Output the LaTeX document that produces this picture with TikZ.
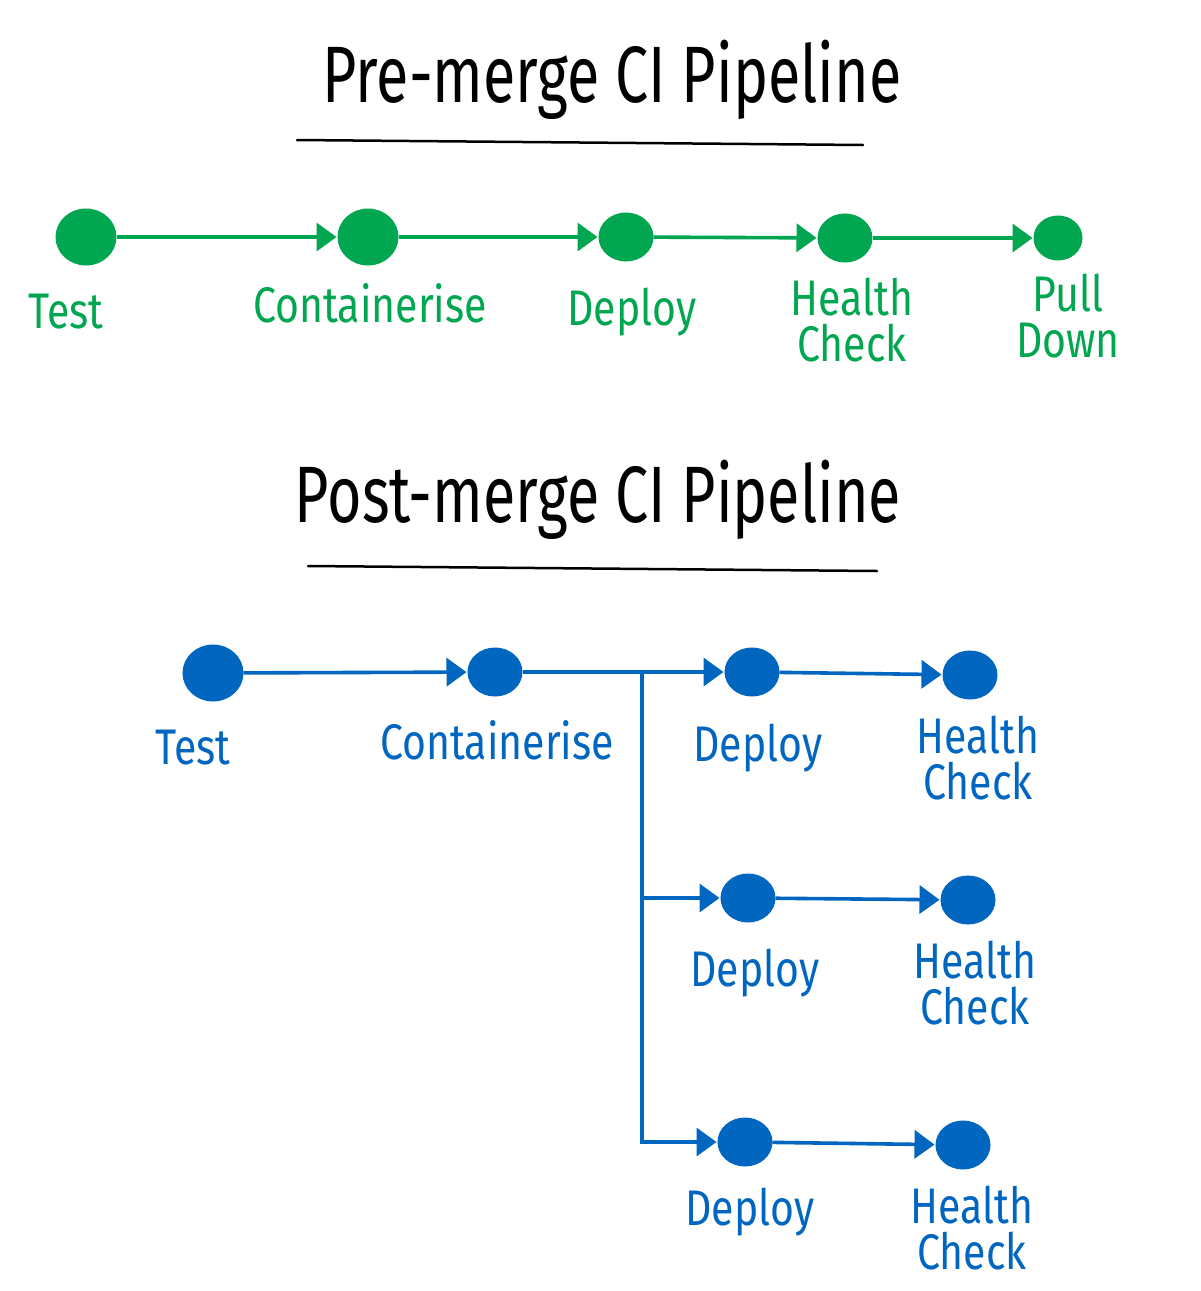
\documentclass[tikz,border=0pt]{standalone}
\usepackage{fontspec}
\setmainfont{Fira Sans}
\usetikzlibrary{shapes.geometric,arrows.meta}
\definecolor{pgreen}{HTML}{00A650}
\definecolor{pblue}{HTML}{0066C0}
\newcommand{\hw}[1]{\scalebox{0.82}[1]{#1}}
\begin{document}
\begin{tikzpicture}[x=1pt,y=-1pt,
  dot/.style={ellipse,draw=#1,fill=#1,line width=3pt,minimum width=58pt,minimum height=54pt,inner sep=0pt},
  small dot/.style={ellipse,draw=#1,fill=#1,line width=3pt,minimum width=52pt,minimum height=46pt,inner sep=0pt},
  conn/.style={draw=#1,line width=3.6pt,-{Triangle[length=20pt,width=28pt]},shorten >=1pt},
  lab/.style={text=#1,font=\fontsize{50}{46}\selectfont,align=center,inner sep=0pt},
  ttl/.style={text=black,font=\fontsize{80}{82}\selectfont,inner sep=0pt},
  uline/.style={draw=black,line width=2.5pt,line cap=round}]
\useasboundingbox[fill=white] (0,0) rectangle (1200,1291);

% ---------- Pre-merge ----------
\node[ttl] (t1) at (612,80) {\scalebox{0.74}[1]{Pre-merge CI Pipeline}};
\coordinate (u1a) at (297,140);
\coordinate (u1b) at (863,145);
\draw[uline] (u1a) -- (u1b);

\node[dot=pgreen] (gt) at (86,237) {};
\node[dot=pgreen] (gc) at (368,237) {};
\node[small dot=pgreen] (gd) at (626,237) {};
\node[small dot=pgreen] (gh) at (845,238) {};
\node[small dot=pgreen,minimum width=46pt,minimum height=42pt] (gp) at (1058,238) {};

\draw[conn=pgreen] (gt) -- (gc);
\draw[conn=pgreen] (gc) -- (gd);
\draw[conn=pgreen] (gd) -- (gh);
\draw[conn=pgreen] (gh) -- (gp);

\node[lab=pgreen] (lgt) at (66,312) {\hw{Test}};
\node[lab=pgreen] (lgc) at (370,303) {\hw{Containerise}};
\node[lab=pgreen] (lgd) at (632,312) {\hw{Deploy}};
\node[lab=pgreen] (lgh) at (852,320) {\hw{Health}\\\hw{Check}};
\node[lab=pgreen] (lgp) at (1068,316) {\hw{Pull}\\\hw{Down}};

% ---------- Post-merge ----------
\node[ttl] (t2) at (598,500) {\scalebox{0.74}[1]{Post-merge CI Pipeline}};
\coordinate (u2a) at (308,566);
\coordinate (u2b) at (877,571);
\draw[uline] (u2a) -- (u2b);

\node[dot=pblue] (bt) at (213,673) {};
\node[small dot=pblue] (bc) at (495,672) {};
\node[small dot=pblue] (bd1) at (752,672) {};
\node[small dot=pblue] (bh1) at (970,675) {};
\node[small dot=pblue] (bd2) at (748,898) {};
\node[small dot=pblue] (bh2) at (968,900) {};
\node[small dot=pblue] (bd3) at (745,1142) {};
\node[small dot=pblue] (bh3) at (963,1145) {};

\draw[conn=pblue] (bt) -- (bc);
\draw[conn=pblue] (bc) -- (bd1);
\coordinate (bj) at (642,672);
\draw[conn=pblue] (bj) |- (bd2);
\draw[conn=pblue] (bj) |- (bd3);
\draw[conn=pblue] (bd1) -- (bh1);
\draw[conn=pblue] (bd2) -- (bh2);
\draw[conn=pblue] (bd3) -- (bh3);

\node[lab=pblue] (lbt) at (193,748) {\hw{Test}};
\node[lab=pblue] (lbc) at (497,740) {\hw{Containerise}};
\node[lab=pblue] (lbd1) at (758,748) {\hw{Deploy}};
\node[lab=pblue] (lbh1) at (978,758) {\hw{Health}\\\hw{Check}};
\node[lab=pblue] (lbd2) at (755,973) {\hw{Deploy}};
\node[lab=pblue] (lbh2) at (975,983) {\hw{Health}\\\hw{Check}};
\node[lab=pblue] (lbd3) at (750,1212) {\hw{Deploy}};
\node[lab=pblue] (lbh3) at (972,1228) {\hw{Health}\\\hw{Check}};
\end{tikzpicture}
\end{document}
